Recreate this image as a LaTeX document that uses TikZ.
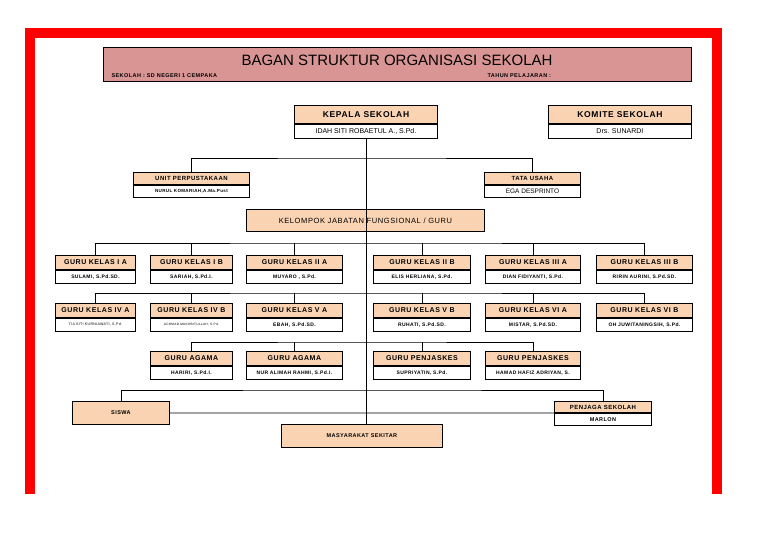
\documentclass[tikz,border=0pt]{standalone}
\usepackage{fontspec}
\setmainfont{Liberation Sans}
\newfontfamily\hf{Liberation Sans}[LetterSpace=8]
\definecolor{peach}{HTML}{FAD3B3}
\definecolor{rose}{HTML}{D99594}
\tikzset{
 box/.style={draw=black,line width=0.9pt,inner sep=0pt,anchor=north west,align=center},
 tbox/.style={box,fill=peach,font=\hf\bfseries\fontsize{7}{8}\selectfont},
 pbox/.style={box,fill=white,font=\hf\bfseries\fontsize{5}{6}\selectfont},
 link/.style={draw=black,line width=0.7pt}
}
\newcommand\gbox[8]{%
 \node[tbox,minimum width=#4pt,minimum height=#5pt] (#1) at (#2,#3) {#7};
 \node[pbox,minimum width=#4pt,minimum height=#6pt] (#1p) at (#1.south west) {#8};}
\begin{document}
\begin{tikzpicture}[x=1pt,y=-1pt]
\useasboundingbox (0,0) rectangle (768,543);
% red frame
\fill[red] (25,28) rectangle (722,38);
\fill[red] (25,28) rectangle (35,494);
\fill[red] (712,28) rectangle (722,494);
% title
\node[box,fill=rose,minimum width=588pt,minimum height=34pt] (title) at (103,47) {};
\node[font=\fontsize{15}{16}\selectfont] (tt) at (397,60) {BAGAN STRUKTUR ORGANISASI SEKOLAH};
\node[font=\hf\bfseries\fontsize{5.5}{6}\selectfont,anchor=west] (ts) at (108,76) {SEKOLAH : SD NEGERI 1 CEMPAKA};
\node[font=\hf\bfseries\fontsize{5.5}{6}\selectfont,anchor=west] (tj) at (484,76) {TAHUN PELAJARAN :};
% top
\node[tbox,font=\hf\bfseries\fontsize{8.5}{9}\selectfont,minimum width=143pt,minimum height=18pt] (ks) at (294,105) {KEPALA SEKOLAH};
\node[pbox,font=\fontsize{7}{8}\selectfont,minimum width=143pt,minimum height=14pt] (ksp) at (ks.south west) {IDAH SITI ROBAETUL A., S.Pd.};
\node[tbox,font=\hf\bfseries\fontsize{8.5}{9}\selectfont,minimum width=143pt,minimum height=18pt] (km) at (548,105) {KOMITE SEKOLAH};
\node[pbox,font=\fontsize{7}{8}\selectfont,minimum width=143pt,minimum height=14pt] (kmp) at (km.south west) {Drs. SUNARDI};
\node[tbox,font=\hf\bfseries\fontsize{6}{7}\selectfont,minimum width=116pt,minimum height=12pt] (up) at (133,172) {UNIT PERPUSTAKAAN};
\node[pbox,font=\hf\bfseries\fontsize{4.5}{5}\selectfont,minimum width=116pt,minimum height=12pt] (upp) at (up.south west) {NURUL KOMARIAH,A.Ma.Pust};
\node[tbox,font=\hf\bfseries\fontsize{6}{7}\selectfont,minimum width=96pt,minimum height=12pt] (tu) at (484,172) {TATA USAHA};
\node[pbox,font=\fontsize{6.5}{7}\selectfont,minimum width=96pt,minimum height=12pt] (tup) at (tu.south west) {EGA DESPRINTO};
\node[tbox,font=\hf\fontsize{7.5}{8}\selectfont,minimum width=238pt,minimum height=22pt] (kj) at (246,209) {KELOMPOK JABATAN FUNGSIONAL / GURU};
% row 1
\gbox{a1}{55}{255}{80}{14}{13}{GURU KELAS I A}{SULAMI, S.Pd.SD.}
\gbox{a2}{150}{255}{82}{14}{13}{GURU KELAS I B}{SARIAH, S.Pd.I.}
\gbox{a3}{246}{255}{96}{14}{13}{GURU KELAS II A}{MUYARO , S.Pd.}
\gbox{a4}{373}{255}{97}{14}{13}{GURU KELAS II B}{ELIS HERLIANA, S.Pd.}
\gbox{a5}{485}{255}{95}{14}{13}{GURU KELAS III A}{DIAN FIDIYANTI, S.Pd.}
\gbox{a6}{596}{255}{96}{14}{13}{GURU KELAS III B}{RIRIN AURINI, S.Pd.SD.}
% row 2
\gbox{b1}{55}{303}{80}{14}{13}{GURU KELAS IV A}{\mdseries\fontsize{3.6}{4}\selectfont TIA SITI KURNIAWATI, S.Pd.}
\gbox{b2}{150}{303}{82}{14}{13}{GURU KELAS IV B}{\mdseries\fontsize{3.2}{4}\selectfont ACHMAD MUKHBITULLAH, S.Pd.}
\gbox{b3}{246}{303}{96}{14}{13}{GURU KELAS V A}{EBAH, S.Pd.SD.}
\gbox{b4}{373}{303}{97}{14}{13}{GURU KELAS V B}{RUHATI, S.Pd.SD.}
\gbox{b5}{485}{303}{95}{14}{13}{GURU KELAS VI A}{MISTAR, S.Pd.SD.}
\gbox{b6}{596}{303}{96}{14}{13}{GURU KELAS VI B}{OH JUWITANINGSIH, S.Pd.}
% row 3
\gbox{c1}{150}{351}{82}{14}{13}{GURU AGAMA}{HARIRI, S.Pd.I.}
\gbox{c2}{246}{351}{96}{14}{13}{GURU AGAMA}{NUR ALIMAH RAHMI, S.Pd.I.}
\gbox{c3}{373}{351}{97}{14}{13}{GURU PENJASKES}{SUPRIYATIN, S.Pd.}
\gbox{c4}{485}{351}{95}{14}{13}{GURU PENJASKES}{HAMAD HAFIZ ADRIYAN, S.}
% bottom
\node[tbox,font=\hf\bfseries\fontsize{5.5}{6}\selectfont,minimum width=97pt,minimum height=23pt] (sw) at (72,401) {SISWA};
\node[tbox,font=\hf\bfseries\fontsize{6}{7}\selectfont,minimum width=97pt,minimum height=11pt] (pj) at (554,401) {PENJAGA SEKOLAH};
\node[pbox,font=\hf\bfseries\fontsize{5.5}{6}\selectfont,minimum width=97pt,minimum height=12pt] (pjp) at (pj.south west) {MARLON};
\node[tbox,font=\hf\bfseries\fontsize{5.5}{6}\selectfont,minimum width=161pt,minimum height=23pt] (ms) at (281,424) {MASYARAKAT SEKITAR};
% connectors
\coordinate (cx) at (362,0);
\begin{scope}[on background layer/.style={}]
\draw[link] (ksp.south) -- (ksp.south |- ms.north);
\draw[link] (up.north) |- (cx |- 0,158) -| (tu.north);
\draw[link] (a1.north) |- (cx |- 0,243) -| (a6.north);
\draw[link] (a2.north) -- (a2.north |- 0,243);
\draw[link] (a3.north) -- (a3.north |- 0,243);
\draw[link] (a4.north) -- (a4.north |- 0,243);
\draw[link] (a5.north) -- (a5.north |- 0,243);
\draw[link] (b1.north) |- (cx |- 0,293) -| (b6.north);
\draw[link] (b2.north) -- (b2.north |- 0,293);
\draw[link] (b3.north) -- (b3.north |- 0,293);
\draw[link] (b4.north) -- (b4.north |- 0,293);
\draw[link] (b5.north) -- (b5.north |- 0,293);
\draw[link] (c1.north) |- (cx |- 0,342) -| (c4.north);
\draw[link] (c2.north) -- (c2.north |- 0,342);
\draw[link] (c3.north) -- (c3.north |- 0,342);
\draw[link] (sw.north) |- (cx |- 0,390) -| (pj.north);
\draw[link] (sw.east) -- (pj.south west);
\end{scope}
\end{tikzpicture}
\end{document}
